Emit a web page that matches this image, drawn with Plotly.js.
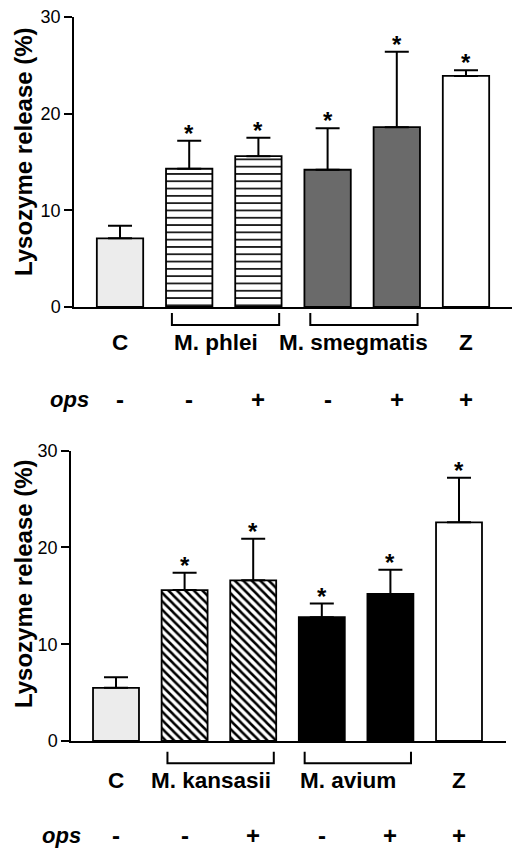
<!DOCTYPE html>
<html>
<head>
<meta charset="utf-8">
<script src="https://cdn.plot.ly/plotly-3.0.1.min.js"></script>
<style>
html,body{margin:0;padding:0;background:#fff}
#chart{width:520px;height:853px}
</style>
</head>
<body>
<div id="chart"></div>
<script>
// panel A: M. phlei / M. smegmatis
const topValues = [7.1, 14.3, 15.6, 14.2, 18.6, 23.9];
const topErr    = [1.3, 2.9, 1.9, 4.3, 7.8, 0.6];
const topStars  = [false, true, true, true, true, true];
const topGroups = [['C',0,0],['M. phlei',1,2],['M. smegmatis',3,4],['Z',5,5]];

// panel B: M. kansasii / M. avium
const botValues = [5.5, 15.6, 16.6, 12.8, 15.2, 22.6];
const botErr    = [1.1, 1.8, 4.3, 1.4, 2.5, 4.6];
const botStars  = [false, true, true, true, true, true];
const botGroups = [['C',0,0],['M. kansasii',1,2],['M. avium',3,4],['Z',5,5]];

const opsSigns = ['-', '-', '+', '-', '+', '+'];
const yTicks = [0, 10, 20, 30];

// bar fills
const FILLS = {
  light: {color: '#ececec'},
  white: {color: '#fff'},
  dark:  {color: '#6a6a6a'},
  black: {color: '#000'},
  hstripe: {color: '#fff', pattern: {shape: '-', fgcolor: '#000', bgcolor: '#fff', size: 7.3, solidity: 0.22, fillmode: 'replace'}},
  diag:    {color: '#fff', pattern: {shape: '\\', fgcolor: '#000', bgcolor: '#fff', size: 6, solidity: 0.42, fillmode: 'replace'}}
};
const topFill = ['light', 'hstripe', 'hstripe', 'dark', 'dark', 'white'];
const botFill = ['light', 'diag', 'diag', 'black', 'black', 'white'];

const H = 853, W = 520;
const py = p => 1 - p / H;
const FONT = 'Liberation Sans, Arial, Helvetica, sans-serif';

const traces = [];
const addBars = (vals, err, fills, xa, ya) => {
  [...new Set(fills)].forEach(f => {
    const ids = vals.map((v, i) => i).filter(i => fills[i] === f);
    const m = FILLS[f];
    traces.push({
      type: 'bar', x: ids, y: ids.map(i => vals[i]), xaxis: xa, yaxis: ya, width: 0.67,
      marker: Object.assign({line: {color: '#000', width: 1.8}}, m),
      error_y: {type: 'data', symmetric: false, array: ids.map(i => err[i]), arrayminus: ids.map(() => 0),
        color: '#000', thickness: 2, width: 12},
      hoverinfo: 'y', showlegend: false
    });
  });
};
addBars(topValues, topErr, topFill, 'x', 'y');
addBars(botValues, botErr, botFill, 'x2', 'y2');

const yAxis = (dom, anchor) => ({
  domain: dom, anchor: anchor, range: [0, 30], tickvals: yTicks, ticks: 'outside', ticklen: 8, tickwidth: 1.5,
  tickcolor: '#000', showline: true, linewidth: 1.5, linecolor: '#000', showgrid: false, zeroline: false,
  tickfont: {family: FONT, size: 18, color: '#000'}, fixedrange: true
});
const xAxis = (dom, range, anchor) => ({
  domain: dom, anchor: anchor, range: range, showline: true, linewidth: 1.5, linecolor: '#000',
  showticklabels: false, ticks: '', showgrid: false, zeroline: false, fixedrange: true
});

const ann = [], shapes = [];
const panel = (vals, err, stars, groups, xr, yr, rows) => {
  vals.forEach((v, i) => {
    if (stars[i]) ann.push({x: i, y: v + err[i], xref: xr, yref: yr, text: '<b>*</b>', showarrow: false, yanchor: 'bottom', yshift: -8,
      font: {family: FONT, size: 24, color: '#000'}});
    ann.push({x: i, y: py(rows.ops), xref: xr, yref: 'paper', text: '<b>' + opsSigns[i] + '</b>', showarrow: false, yanchor: 'middle',
      font: {family: FONT, size: 24, color: '#000'}});
  });
  groups.forEach(([name, a, b]) => {
    const cx = a === b ? a : a + 0.38;
    ann.push({x: cx, y: py(rows.label), xref: xr, yref: 'paper', text: '<b>' + name + '</b>', showarrow: false, yanchor: 'middle',
      font: {family: FONT, size: 22.5, color: '#000'}});
    if (a !== b) {
      const x0 = a - 0.25, x1 = b + 0.3, t = py(rows.brTop), u = py(rows.brBot);
      shapes.push({type: 'path', xref: xr, yref: 'paper', path: `M${x0},${t}L${x0},${u}L${x1},${u}L${x1},${t}`,
        line: {color: '#000', width: 2}});
    }
  });
  ann.push({x: rows.opsX / W, y: py(rows.ops), xref: 'paper', yref: 'paper', text: '<b><i>ops</i></b>', showarrow: false,
    yanchor: 'middle', font: {family: FONT, size: 22, color: '#000'}});
  ann.push({x: 23 / W, y: py(rows.title), xref: 'paper', yref: 'paper', text: '<b>Lysozyme release (%)</b>', textangle: -90,
    showarrow: false, xanchor: 'center', yanchor: 'middle', font: {family: FONT, size: 24, color: '#000'}});
};

panel(topValues, topErr, topStars, topGroups, 'x', 'y', {label: 342, ops: 399, brTop: 313, brBot: 325, opsX: 48, title: 152});
panel(botValues, botErr, botStars, botGroups, 'x2', 'y2', {label: 780, ops: 835, brTop: 751.7, brBot: 763.3, opsX: 40, title: 584});

const layout = {
  width: W, height: H, margin: {l: 0, r: 0, t: 0, b: 0}, paper_bgcolor: '#fff', plot_bgcolor: '#fff',
  font: {family: FONT, color: '#000'}, showlegend: false, barmode: 'overlay',
  xaxis: xAxis([74 / W, 512 / W], [-0.665, 5.665], 'y'),
  yaxis: yAxis([py(307), py(17)], 'x'),
  xaxis2: xAxis([71 / W, 506 / W], [-0.656, 5.685], 'y2'),
  yaxis2: yAxis([py(741), py(450.7)], 'x2'),
  annotations: ann, shapes: shapes
};

Plotly.newPlot('chart', traces, layout, {displayModeBar: false});
</script>
</body>
</html>
